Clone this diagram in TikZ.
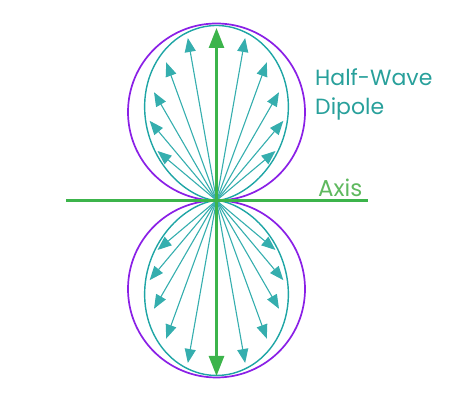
\documentclass[tikz,border=0pt]{standalone}
\usepackage{fontspec}
\setmainfont{Poppins}
\usetikzlibrary{arrows.meta,calc}
\definecolor{pviolet}{RGB}{138,32,230}
\definecolor{pteal}{RGB}{30,165,165}
\definecolor{pgreen}{RGB}{60,180,75}
\definecolor{ptext}{RGB}{40,160,155}
\definecolor{paxis}{RGB}{95,185,95}
\tikzset{
  outercirc/.style={draw=pviolet, line width=1.7pt},
  lobe/.style={draw=pteal, line width=1.4pt},
  rayarrow/.style={draw=pteal!90!white, line width=1.1pt, -{Triangle[length=14pt,width=11pt]}},
  mainarrow/.style={draw=pgreen, line width=2.6pt, -{Triangle[length=20pt,width=15pt]}},
  axisline/.style={draw=pgreen, line width=2.4pt},
  lbl/.style={font=\fontsize{22}{26}\selectfont, inner sep=0pt, anchor=base west}
}
\begin{document}
\begin{tikzpicture}[x=1pt,y=1pt]
\useasboundingbox (0,0) rectangle (474,403);
\coordinate (O) at (216.5,202.5);
% outer violet circles
\draw[outercirc] (216.5,291) circle (88.5);
\draw[outercirc] (216.5,114) circle (88.5);
% teal lobes
\draw[lobe] plot[domain=1:179, samples=120, variable=\t]
  ({216.5+175*(sin(\t))^1.7*cos(\t)}, {202.5+175*(sin(\t))^1.7*sin(\t)});
\draw[lobe] plot[domain=1:179, samples=120, variable=\t]
  ({216.5+175*(sin(\t))^1.7*cos(\t)}, {202.5-175*(sin(\t))^1.7*sin(\t)});
% rays
\foreach \a/\l in {10/165,20/147,30/125,40/104,50/77}{
  \coordinate (tl\a) at ($(O)+(90+\a:\l)$);
  \coordinate (tr\a) at ($(O)+(90-\a:\l)$);
  \coordinate (bl\a) at ($(O)+(270-\a:\l)$);
  \coordinate (br\a) at ($(O)+(270+\a:\l)$);
  \draw[rayarrow] (O) -- (tl\a);
  \draw[rayarrow] (O) -- (tr\a);
  \draw[rayarrow] (O) -- (bl\a);
  \draw[rayarrow] (O) -- (br\a);
}
% axis
\coordinate (axL) at (66,202.5);
\coordinate (axR) at (368,202.5);
\draw[axisline] (axL) -- (axR);
% main green arrows
\coordinate (topT) at (216.5,375);
\coordinate (botT) at (216.5,27);
\draw[mainarrow] (O) -- (topT);
\draw[mainarrow] (O) -- (botT);
% labels
\node[lbl, text=ptext] (hw) at (315,317) {Half-Wave};
\node[lbl, text=ptext] (dp) at (315,288) {Dipole};
\node[lbl, text=paxis, font=\fontsize{23}{27}\selectfont] (ax) at (318,206.5) {Axis};
\end{tikzpicture}
\end{document}
